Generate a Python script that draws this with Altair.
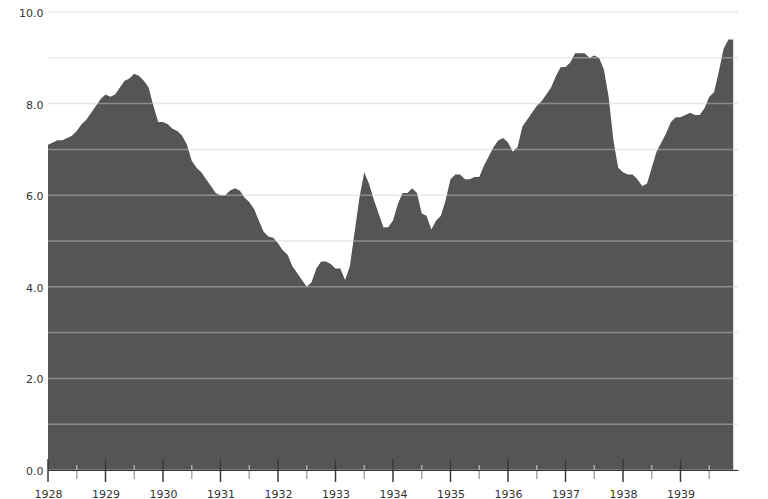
import altair as alt
import pandas as pd

# Monthly values, Jan 1928 .. Dec 1939 (one row per year)
values_1928 = [7.10, 7.15, 7.20, 7.20, 7.25, 7.30, 7.40, 7.55, 7.65, 7.80, 7.95, 8.10]
values_1929 = [8.20, 8.15, 8.20, 8.35, 8.50, 8.55, 8.65, 8.60, 8.50, 8.35, 7.95, 7.60]
values_1930 = [7.60, 7.55, 7.45, 7.40, 7.30, 7.10, 6.75, 6.60, 6.50, 6.35, 6.20, 6.05]
values_1931 = [6.00, 6.00, 6.10, 6.15, 6.10, 5.95, 5.85, 5.70, 5.45, 5.20, 5.10, 5.07]
values_1932 = [4.95, 4.80, 4.70, 4.45, 4.30, 4.15, 4.00, 4.10, 4.40, 4.55, 4.55, 4.50]
values_1933 = [4.40, 4.40, 4.15, 4.45, 5.20, 5.95, 6.50, 6.25, 5.90, 5.60, 5.30, 5.30]
values_1934 = [5.45, 5.80, 6.05, 6.05, 6.15, 6.05, 5.60, 5.55, 5.25, 5.45, 5.55, 5.90]
values_1935 = [6.35, 6.45, 6.45, 6.35, 6.35, 6.40, 6.40, 6.65, 6.85, 7.05, 7.20, 7.25]
values_1936 = [7.15, 6.95, 7.05, 7.50, 7.65, 7.80, 7.95, 8.05, 8.20, 8.35, 8.60, 8.80]
values_1937 = [8.80, 8.90, 9.10, 9.10, 9.10, 9.00, 9.05, 9.00, 8.75, 8.15, 7.20, 6.60]
values_1938 = [6.50, 6.45, 6.45, 6.35, 6.20, 6.25, 6.60, 6.95, 7.15, 7.35, 7.60, 7.70]
values_1939 = [7.70, 7.75, 7.80, 7.75, 7.75, 7.90, 8.15, 8.25, 8.70, 9.20, 9.40, 9.40]

years = list(range(1928, 1940))
yearly = [values_1928, values_1929, values_1930, values_1931, values_1932, values_1933,
          values_1934, values_1935, values_1936, values_1937, values_1938, values_1939]

y_tick_values = [0, 2, 4, 6, 8, 10]
grid_values = list(range(0, 11))
major_ticks = years
minor_ticks = [y + 0.5 for y in years]

rows = []
for yr, vals in zip(years, yearly):
    for m, v in enumerate(vals):
        rows.append({"t": yr + m / 12.0, "value": v})
df = pd.DataFrame(rows)

W, H = 690, 458
xscale = alt.Scale(domain=[1928, 1940], nice=False, zero=False)
yscale = alt.Scale(domain=[0, 10], nice=False)

area = alt.Chart(df).mark_area(color="#555555", interpolate="linear").encode(
    x=alt.X("t:Q", scale=xscale,
            axis=alt.Axis(values=years, format="d", title=None, grid=False, ticks=False,
                          domain=True, domainColor="#333333", domainWidth=1,
                          labelFontSize=11, labelColor="#333333", labelPadding=18,
                          labelFlush=False, labelOverlap=False,
                          labelFont="DejaVu Sans", zindex=1)),
    y=alt.Y("value:Q", scale=yscale,
            axis=alt.Axis(values=y_tick_values, format=".1f", title=None, grid=False,
                          ticks=False, domain=False, labelFontSize=11,
                          labelFlush=False, labelOffset=1.5,
                          labelColor="#333333", labelPadding=5, labelFont="DejaVu Sans")),
)

grid = alt.Chart(pd.DataFrame({"g": grid_values})).mark_rule(
    color="#cecece", opacity=0.45, strokeWidth=1.5
).encode(
    y=alt.Y("g:Q", scale=yscale),
    x=alt.value(0), x2=alt.value(W),
)

major = alt.Chart(pd.DataFrame({"m": major_ticks})).mark_rule(
    color="#3a3a3a", strokeWidth=1.5
).encode(
    x=alt.X("m:Q", scale=xscale),
    y=alt.value(H - 11), y2=alt.value(H + 12),
)

minor = alt.Chart(pd.DataFrame({"m": minor_ticks})).mark_rule(
    color="#aaaaaa", strokeWidth=1.5
).encode(
    x=alt.X("m:Q", scale=xscale),
    y=alt.value(H - 5), y2=alt.value(H + 9),
)

chart = alt.layer(area, grid, minor, major).properties(
    width=W, height=H,
    autosize=alt.AutoSizeParams(type="none"),
    padding={"left": 40, "top": 4, "right": 20, "bottom": 30},
).configure_view(stroke=None)

chart.save("out.html", embed_options={"renderer": "svg", "actions": False})
